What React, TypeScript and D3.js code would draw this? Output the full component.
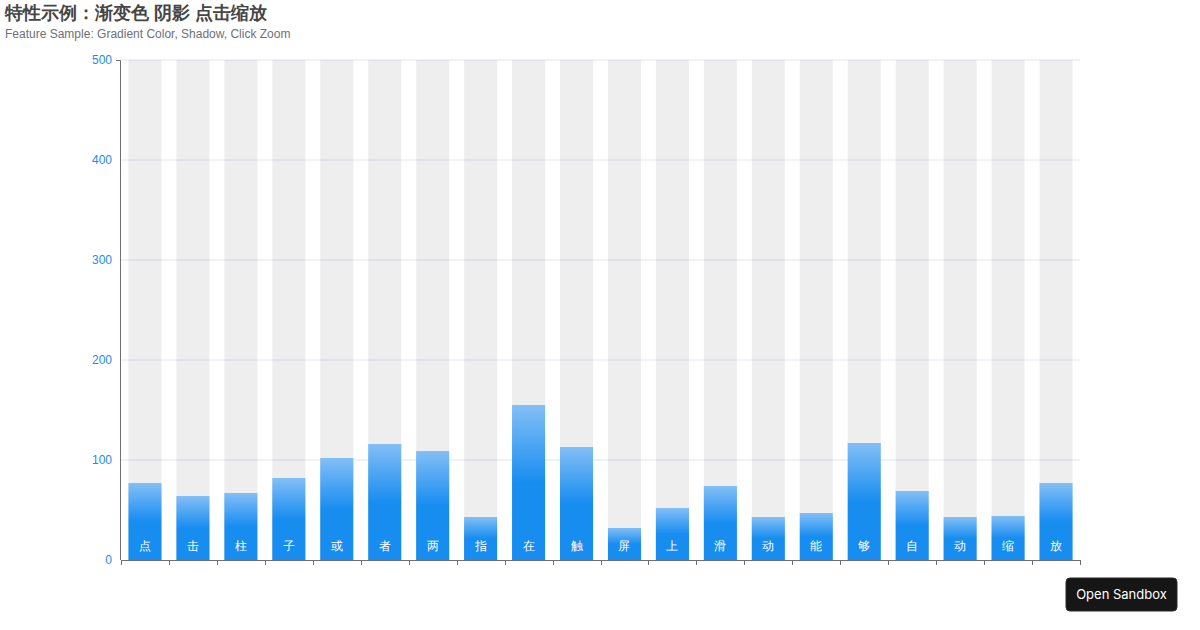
import { useEffect, useRef } from "react";
import * as d3 from "d3";

const categories = ["点", "击", "柱", "子", "或", "者", "两", "指", "在", "触", "屏", "上", "滑", "动", "能", "够", "自", "动", "缩", "放"];
const values = [77, 64, 67, 82, 102, 116, 109, 43, 155, 113, 32, 52, 74, 43, 47, 117, 69, 43, 44, 77];
const yTicks = [0, 100, 200, 300, 400, 500];
const yMax = 500;

const titleText = "特性示例：渐变色 阴影 点击缩放";
const subText = "Feature Sample: Gradient Color, Shadow, Click Zoom";

const W = 1200;
const H = 630;
const margin = { top: 60, right: 120, bottom: 70, left: 121 };

export default function App() {
    const svgRef = useRef<SVGSVGElement>(null);

    useEffect(() => {
        const svg = d3.select(svgRef.current);
        svg.selectAll("*").remove();

        const font = "'Liberation Sans', Arial, sans-serif";
        const innerW = W - margin.left - margin.right;
        const innerH = H - margin.top - margin.bottom;

        // gradient for the bars (per bar bounding box)
        const grad = svg.append("defs")
            .append("linearGradient")
            .attr("id", "barGrad")
            .attr("x1", 0).attr("y1", 0).attr("x2", 0).attr("y2", 1);
        grad.append("stop").attr("offset", "0%").attr("stop-color", "#83bff6");
        grad.append("stop").attr("offset", "50%").attr("stop-color", "#188df0");
        grad.append("stop").attr("offset", "100%").attr("stop-color", "#188df0");

        // Title
        svg.append("text")
            .attr("x", 5).attr("y", 19)
            .attr("font-family", font)
            .attr("font-size", 18)
            .attr("font-weight", "bold")
            .attr("fill", "#464646")
            .text(titleText);

        svg.append("text")
            .attr("x", 5).attr("y", 38)
            .attr("font-family", font)
            .attr("font-size", 12)
            .attr("fill", "#6e7079")
            .text(subText);

        const g = svg.append("g")
            .attr("transform", `translate(${margin.left},${margin.top})`);

        const x = d3.scaleBand<string>()
            .domain(categories.map((c, i) => `${i}`))
            .range([0, innerW]);

        const y = d3.scaleLinear()
            .domain([0, yMax])
            .range([innerH, 0]);

        const bw = x.bandwidth() * 0.69;
        const off = (x.bandwidth() - bw) / 2;

        // Gridlines
        g.append("g")
            .selectAll("line")
            .data(yTicks.filter(t => t > 0))
            .enter()
            .append("line")
            .attr("x1", 0).attr("x2", innerW)
            .attr("y1", d => y(d)).attr("y2", d => y(d))
            .attr("stroke", "#e0e6f1")
            .attr("stroke-width", 1);

        // Shadow bars
        g.append("g")
            .selectAll("rect")
            .data(values)
            .enter()
            .append("rect")
            .attr("x", (_, i) => (x(`${i}`) || 0) + off)
            .attr("y", y(yMax))
            .attr("width", bw)
            .attr("height", innerH)
            .attr("fill", "rgba(0,0,0,0.065)");

        // Value bars
        g.append("g")
            .selectAll("rect")
            .data(values)
            .enter()
            .append("rect")
            .attr("x", (_, i) => (x(`${i}`) || 0) + off)
            .attr("y", d => y(d))
            .attr("width", bw)
            .attr("height", d => innerH - y(d))
            .attr("fill", "url(#barGrad)");

        // Category labels inside bars
        g.append("g")
            .selectAll("text")
            .data(categories)
            .enter()
            .append("text")
            .attr("x", (_, i) => (x(`${i}`) || 0) + x.bandwidth() / 2)
            .attr("y", innerH - 13)
            .attr("text-anchor", "middle")
            .attr("dominant-baseline", "middle")
            .attr("font-family", font)
            .attr("font-size", 12)
            .attr("fill", "#ffffff")
            .text(d => d);

        // Y axis
        const yAxis = g.append("g")
            .call(d3.axisLeft(y).tickValues(yTicks).tickSize(5).tickPadding(4));
        yAxis.select(".domain").attr("stroke", "#6e7079").attr("d", `M-0.5,${innerH}V0.5H-5`);
        yAxis.selectAll(".tick line").attr("stroke", "#6e7079").attr("x1", -0.5).attr("x2", -4.5);
        yAxis.selectAll(".tick line").filter((d: any) => d !== 500).remove();
        yAxis.selectAll("text")
            .attr("fill", "#188df0")
            .attr("font-family", font)
            .attr("font-size", 12);

        // X axis
        const xAxis = g.append("g").attr("transform", `translate(0,${innerH})`);
        xAxis.append("line")
            .attr("x1", 0).attr("x2", innerW)
            .attr("y1", 0.5).attr("y2", 0.5)
            .attr("stroke", "#6e7079");
        const bounds = categories.map((_, i) => x(`${i}`) || 0).concat([innerW]);
        xAxis.selectAll(".xt")
            .data(bounds)
            .enter()
            .append("line")
            .attr("x1", d => Math.round(d) + 0.5).attr("x2", d => Math.round(d) + 0.5)
            .attr("y1", 0).attr("y2", 5)
            .attr("stroke", "#6e7079");

        // Open Sandbox button
        const btn = svg.append("g").attr("transform", "translate(1066,578)");
        btn.append("rect")
            .attr("width", 111).attr("height", 33).attr("rx", 4)
            .attr("fill", "#161616")
            .attr("stroke", "#2a2a2a");
        btn.append("text")
            .attr("x", 55.5).attr("y", 17)
            .attr("text-anchor", "middle")
            .attr("dominant-baseline", "middle")
            .attr("font-family", "Inter, 'Noto Sans', sans-serif")
            .attr("font-size", 13)
            .attr("fill", "#ffffff")
            .text("Open Sandbox");
    }, []);

    return (
        <div style={{ position: "fixed", left: 0, top: 0, width: W, height: H, background: "#fff" }}>
            <svg ref={svgRef} width={W} height={H} />
        </div>
    );
}
